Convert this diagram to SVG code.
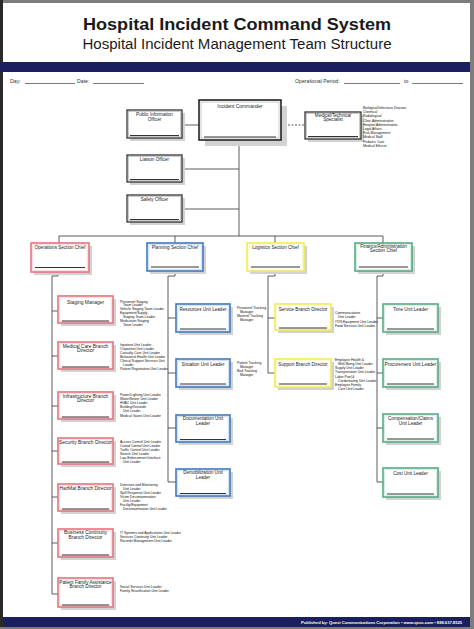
<svg xmlns="http://www.w3.org/2000/svg" width="474" height="629" viewBox="0 0 474 629">
<style>
text{font-family:"Liberation Sans",Arial,sans-serif;fill:#222}
.t{font-size:4.6px;text-anchor:middle}
.tl{font-size:4.9px;text-anchor:middle}
.ls{font-size:3.4px;fill:#111}
.sh{fill:#d2d2d2}
.cmd{fill:#fff;stroke:#222;stroke-width:1.2}
.cmdi{fill:none;stroke:#999;stroke-width:0.5}
.red{fill:#fff;stroke:#e4737d;stroke-width:1.6}
.redi{fill:none;stroke:#f6c0c4;stroke-width:0.6}
.blu{fill:#fff;stroke:#3f78bd;stroke-width:1.6}
.blui{fill:none;stroke:#a9c5e6;stroke-width:0.6}
.yel{fill:#fff;stroke:#f2ec55;stroke-width:1.6}
.yeli{fill:none;stroke:#faf6b0;stroke-width:0.6}
.grn{fill:#fff;stroke:#55a983;stroke-width:1.6}
.grni{fill:none;stroke:#b3dcc8;stroke-width:0.6}
.bl{stroke:#333;stroke-width:1}
.c{fill:none;stroke:#333;stroke-width:0.8}
.form{font-size:5.2px;fill:#333}
.fl{stroke:#222;stroke-width:0.6}
</style>
<!-- page frame -->
<rect x="0" y="0" width="474" height="629" fill="#fff"/>
<rect x="0" y="0" width="474" height="3" fill="#7d7d7d"/>
<rect x="470" y="0" width="4" height="629" fill="#7d7d7d"/>
<rect x="0" y="0" width="3" height="629" fill="#2a2a2a"/>
<rect x="0" y="627" width="474" height="2" fill="#7d7d7d"/>

<g id="header">
<text x="237" y="30" font-size="16.5" font-weight="bold" text-anchor="middle" textLength="308" lengthAdjust="spacingAndGlyphs" style="fill:#1a1a1a">Hospital Incident Command System</text>
<text x="237" y="49" font-size="14" text-anchor="middle" textLength="309" lengthAdjust="spacingAndGlyphs" style="fill:#1a1a1a">Hospital Incident Management Team Structure</text>
<rect x="0" y="62" width="470" height="10" fill="#1b1f5e"/>
<text class="form" x="10" y="83">Day:</text>
<line class="fl" x1="25" y1="83.5" x2="75" y2="83.5"/>
<text class="form" x="77" y="83">Date:</text>
<line class="fl" x1="93" y1="83.5" x2="144" y2="83.5"/>
<text class="form" x="295" y="83">Operational Period:</text>
<line class="fl" x1="344" y1="83.5" x2="400" y2="83.5"/>
<text class="form" x="404" y="83">to</text>
<line class="fl" x1="412" y1="83.5" x2="463" y2="83.5"/>
</g>

<g id="connectors">
<line class="c" x1="182" y1="125" x2="199" y2="125"/>
<line class="c" x1="281" y1="125" x2="305" y2="125" stroke-dasharray="2,1.5"/>
<line class="c" x1="239" y1="140" x2="239" y2="236"/>
<line class="c" x1="182" y1="169" x2="239" y2="169"/>
<line class="c" x1="182" y1="209" x2="239" y2="209"/>
<line class="c" x1="59" y1="236" x2="383" y2="236"/>
<line class="c" x1="59" y1="236" x2="59" y2="243"/>
<line class="c" x1="175" y1="236" x2="175" y2="243"/>
<line class="c" x1="275" y1="236" x2="275" y2="243"/>
<line class="c" x1="383" y1="236" x2="383" y2="243"/>
<path class="c" d="M58,272V276H52V594M52,311H58M52,356H58M52,406H58M52,451H58M52,497H58M52,543H58M52,594H58"/>
<path class="c" d="M175,271V276H168V482M168,318H176M168,373H176M168,428H176M168,482H176"/>
<path class="c" d="M275,271V276H268V373M268,318H275M268,373H275"/>
<path class="c" d="M383,271V276H377V482M377,318H383M377,373H383M377,428H383M377,482H383"/>
</g>

<!-- command staff -->
<g id="incident-commander">
<rect class="sh" x="205" y="106" width="82" height="40"/>
<rect class="cmd" x="199" y="100" width="82" height="40" style="stroke-width:1.6"/>
<rect class="cmdi" x="201" y="102" width="78" height="36"/>
<line class="bl" x1="204" y1="137" x2="276" y2="137"/>
<text class="tl" x="240" y="108">Incident Commander</text>
</g>
<g id="public-information-officer">
<rect class="sh" x="130" y="113" width="55" height="28"/>
<rect class="cmd" x="127" y="110" width="55" height="28"/>
<rect class="cmdi" x="128.5" y="111.5" width="52" height="25"/>
<line class="bl" x1="130" y1="135.5" x2="179" y2="135.5"/>
<text class="t" x="154.5" y="116">Public Information</text>
<text class="t" x="154.5" y="120.5">Officer</text>
</g>
<g id="liaison-officer">
<rect class="sh" x="130" y="158" width="55" height="27"/>
<rect class="cmd" x="127" y="155" width="55" height="27"/>
<rect class="cmdi" x="128.5" y="156.5" width="52" height="24"/>
<line class="bl" x1="130" y1="179.5" x2="179" y2="179.5"/>
<text class="t" x="154.5" y="160.5">Liaison Officer</text>
</g>
<g id="safety-officer">
<rect class="sh" x="130" y="198" width="55" height="27"/>
<rect class="cmd" x="127" y="195" width="55" height="27"/>
<rect class="cmdi" x="128.5" y="196.5" width="52" height="24"/>
<line class="bl" x1="130" y1="219.5" x2="179" y2="219.5"/>
<text class="t" x="154.5" y="200.5">Safety Officer</text>
</g>
<g id="medical-technical-specialist">
<rect class="sh" x="308" y="115" width="56" height="27"/>
<rect class="cmd" x="305" y="112" width="56" height="27"/>
<rect class="cmdi" x="306.5" y="113.5" width="53" height="24"/>
<line class="bl" x1="308" y1="136.5" x2="358" y2="136.5"/>
<text class="t" x="333" y="116.5">Medical/Technical</text>
<text class="t" x="333" y="121">Specialist</text>
<text class="ls" x="363" y="109">Biological/Infectious Disease</text>
<text class="ls" x="363" y="113.2">Chemical</text>
<text class="ls" x="363" y="117.4">Radiological</text>
<text class="ls" x="363" y="121.6">Clinic Administration</text>
<text class="ls" x="363" y="125.8">Hospital Administration</text>
<text class="ls" x="363" y="130">Legal Affairs</text>
<text class="ls" x="363" y="134.2">Risk Management</text>
<text class="ls" x="363" y="138.4">Medical Staff</text>
<text class="ls" x="363" y="142.6">Pediatric Care</text>
<text class="ls" x="363" y="146.8">Medical Ethicist</text>
</g>

<!-- section chiefs -->
<g id="operations-section-chief">
<rect class="sh" x="34" y="246" width="58" height="29"/>
<rect class="red" x="31" y="243" width="58" height="29"/>
<rect class="redi" x="32.8" y="244.8" width="54.4" height="25.4"/>
<line class="bl" x1="35" y1="267.5" x2="85" y2="267.5"/>
<text class="t" x="60" y="248.5">Operations Section Chief</text>
</g>
<g id="planning-section-chief">
<rect class="sh" x="150" y="246" width="56" height="28"/>
<rect class="blu" x="147" y="243" width="56" height="28"/>
<rect class="blui" x="148.8" y="244.8" width="52.4" height="24.4"/>
<line class="bl" x1="151" y1="267" x2="199" y2="267"/>
<text class="t" x="175" y="248.5">Planning Section Chief</text>
</g>
<g id="logistics-section-chief">
<rect class="sh" x="250" y="246" width="57" height="28"/>
<rect class="yel" x="247" y="243" width="57" height="28"/>
<rect class="yeli" x="248.8" y="244.8" width="53.4" height="24.4"/>
<line class="bl" x1="251" y1="267" x2="300" y2="267"/>
<text class="t" x="275.5" y="248.5">Logistics Section Chief</text>
</g>
<g id="finance-administration-section-chief">
<rect class="sh" x="358" y="246" width="57" height="28"/>
<rect class="grn" x="355" y="243" width="57" height="28"/>
<rect class="grni" x="356.8" y="244.8" width="53.4" height="24.4"/>
<line class="bl" x1="359" y1="267" x2="408" y2="267"/>
<text class="t" x="383.5" y="247.5">Finance/Administration</text>
<text class="t" x="383.5" y="252">Section Chief</text>
</g>

<!-- operations -->
<g id="staging-manager">
<rect class="sh" x="61" y="299" width="55" height="27"/>
<rect class="red" x="58" y="296" width="55" height="27"/>
<rect class="redi" x="59.8" y="297.8" width="51.4" height="23.4"/>
<line class="bl" x1="62" y1="321" x2="109" y2="321"/>
<text class="tl" x="85.5" y="304">Staging Manager</text>
<text class="ls" x="120" y="302.5">Personnel Staging</text>
<text class="ls" x="123" y="306.4">Team Leader</text>
<text class="ls" x="120" y="310.3">Vehicle Staging Team Leader</text>
<text class="ls" x="120" y="314.2">Equipment/Supply</text>
<text class="ls" x="123" y="318.1">Staging Team Leader</text>
<text class="ls" x="120" y="322">Medication Staging</text>
<text class="ls" x="123" y="325.9">Team Leader</text>
</g>
<g id="medical-care-branch-director">
<rect class="sh" x="61" y="345" width="55" height="27"/>
<rect class="red" x="58" y="342" width="55" height="27"/>
<rect class="redi" x="59.8" y="343.8" width="51.4" height="23.4"/>
<line class="bl" x1="62" y1="367" x2="109" y2="367"/>
<text class="tl" x="85.5" y="347.5">Medical Care Branch</text>
<text class="tl" x="85.5" y="352">Director</text>
<text class="ls" x="120" y="346">Inpatient Unit Leader</text>
<text class="ls" x="120" y="350">Outpatient Unit Leader</text>
<text class="ls" x="120" y="354">Casualty Care Unit Leader</text>
<text class="ls" x="120" y="358">Behavioral Health Unit Leader</text>
<text class="ls" x="120" y="362">Clinical Support Services Unit</text>
<text class="ls" x="123" y="366">Leader</text>
<text class="ls" x="120" y="370">Patient Registration Unit Leader</text>
</g>
<g id="infrastructure-branch-director">
<rect class="sh" x="61" y="395" width="55" height="27"/>
<rect class="red" x="58" y="392" width="55" height="27"/>
<rect class="redi" x="59.8" y="393.8" width="51.4" height="23.4"/>
<line class="bl" x1="62" y1="417" x2="109" y2="417"/>
<text class="tl" x="85.5" y="397.5">Infrastructure Branch</text>
<text class="tl" x="85.5" y="402">Director</text>
<text class="ls" x="120" y="396">Power/Lighting Unit Leader</text>
<text class="ls" x="120" y="400">Water/Sewer Unit Leader</text>
<text class="ls" x="120" y="404">HVAC Unit Leader</text>
<text class="ls" x="120" y="408">Building/Grounds</text>
<text class="ls" x="123" y="412">Unit Leader</text>
<text class="ls" x="120" y="417">Medical Gases Unit Leader</text>
</g>
<g id="security-branch-director">
<rect class="sh" x="61" y="441" width="55" height="26"/>
<rect class="red" x="58" y="438" width="55" height="26"/>
<rect class="redi" x="59.8" y="439.8" width="51.4" height="22.4"/>
<line class="bl" x1="62" y1="462" x2="109" y2="462"/>
<text class="tl" x="85.5" y="443.5">Security Branch Director</text>
<text class="ls" x="120" y="442.5">Access Control Unit Leader</text>
<text class="ls" x="120" y="446.5">Crowd Control Unit Leader</text>
<text class="ls" x="120" y="450.5">Traffic Control Unit Leader</text>
<text class="ls" x="120" y="454.5">Search Unit Leader</text>
<text class="ls" x="120" y="459">Law Enforcement Interface</text>
<text class="ls" x="123" y="463">Unit Leader</text>
</g>
<g id="hazmat-branch-director">
<rect class="sh" x="61" y="487" width="55" height="27"/>
<rect class="red" x="58" y="484" width="55" height="27"/>
<rect class="redi" x="59.8" y="485.8" width="51.4" height="23.4"/>
<line class="bl" x1="62" y1="509" x2="109" y2="509"/>
<text class="tl" x="85.5" y="489.5">HazMat Branch Director</text>
<text class="ls" x="120" y="486">Detection and Monitoring</text>
<text class="ls" x="123" y="490">Unit Leader</text>
<text class="ls" x="120" y="494">Spill Response Unit Leader</text>
<text class="ls" x="120" y="498">Victim Decontamination</text>
<text class="ls" x="123" y="502">Unit Leader</text>
<text class="ls" x="120" y="506">Facility/Equipment</text>
<text class="ls" x="123" y="510">Decontamination Unit Leader</text>
</g>
<g id="business-continuity-branch-director">
<rect class="sh" x="61" y="532" width="55" height="28"/>
<rect class="red" x="58" y="529" width="55" height="28"/>
<rect class="redi" x="59.8" y="530.8" width="51.4" height="24.4"/>
<line class="bl" x1="62" y1="555" x2="109" y2="555"/>
<text class="tl" x="85.5" y="534">Business Continuity</text>
<text class="tl" x="85.5" y="538.5">Branch Director</text>
<text class="ls" x="120" y="534">IT Systems and Applications Unit Leader</text>
<text class="ls" x="120" y="538">Services Continuity Unit Leader</text>
<text class="ls" x="120" y="542">Records Management Unit Leader</text>
</g>
<g id="patient-family-assistance-branch-director">
<rect class="sh" x="61" y="581" width="55" height="29"/>
<rect class="red" x="58" y="578" width="55" height="29"/>
<rect class="redi" x="59.8" y="579.8" width="51.4" height="25.4"/>
<line class="bl" x1="62" y1="605" x2="109" y2="605"/>
<text class="t" x="85.5" y="583.5">Patient Family Assistance</text>
<text class="t" x="85.5" y="588">Branch Director</text>
<text class="ls" x="120" y="588">Social Services Unit Leader</text>
<text class="ls" x="120" y="592">Family Reunification Unit Leader</text>
</g>

<!-- planning -->
<g id="resources-unit-leader">
<rect class="sh" x="179" y="307" width="54" height="28"/>
<rect class="blu" x="176" y="304" width="54" height="28"/>
<rect class="blui" x="177.8" y="305.8" width="50.4" height="24.4"/>
<line class="bl" x1="180" y1="329" x2="226" y2="329"/>
<text class="t" x="203" y="310.5">Resources Unit Leader</text>
<text class="ls" x="237" y="308.5">Personnel Tracking</text>
<text class="ls" x="240" y="312.5">Manager</text>
<text class="ls" x="237" y="317">Materiel Tracking</text>
<text class="ls" x="240" y="321">Manager</text>
</g>
<g id="situation-unit-leader">
<rect class="sh" x="179" y="362" width="54" height="28"/>
<rect class="blu" x="176" y="359" width="54" height="28"/>
<rect class="blui" x="177.8" y="360.8" width="50.4" height="24.4"/>
<line class="bl" x1="180" y1="384" x2="226" y2="384"/>
<text class="t" x="203" y="365.5">Situation Unit Leader</text>
<text class="ls" x="237" y="363.5">Patient Tracking</text>
<text class="ls" x="240" y="367.5">Manager</text>
<text class="ls" x="237" y="372">Bed Tracking</text>
<text class="ls" x="240" y="376">Manager</text>
</g>
<g id="documentation-unit-leader">
<rect class="sh" x="179" y="418" width="54" height="27"/>
<rect class="blu" x="176" y="415" width="54" height="27"/>
<rect class="blui" x="177.8" y="416.8" width="50.4" height="23.4"/>
<line class="bl" x1="180" y1="439.5" x2="226" y2="439.5"/>
<text class="t" x="203" y="420">Documentation Unit</text>
<text class="t" x="203" y="424.5">Leader</text>
</g>
<g id="demobilization-unit-leader">
<rect class="sh" x="179" y="472" width="54" height="27"/>
<rect class="blu" x="176" y="469" width="54" height="27"/>
<rect class="blui" x="177.8" y="470.8" width="50.4" height="23.4"/>
<line class="bl" x1="180" y1="493.5" x2="226" y2="493.5"/>
<text class="t" x="203" y="474">Demobilization Unit</text>
<text class="t" x="203" y="478.5">Leader</text>
</g>

<!-- logistics -->
<g id="service-branch-director">
<rect class="sh" x="278" y="307" width="56" height="26"/>
<rect class="yel" x="275" y="304" width="56" height="26"/>
<rect class="yeli" x="276.8" y="305.8" width="52.4" height="22.4"/>
<line class="bl" x1="279" y1="328" x2="327" y2="328"/>
<text class="t" x="303" y="310.5">Service Branch Director</text>
<text class="ls" x="335" y="314">Communications</text>
<text class="ls" x="338" y="318">Unit Leader</text>
<text class="ls" x="335" y="322.5">IT/IS Equipment Unit Leader</text>
<text class="ls" x="335" y="326.5">Food Services Unit Leader</text>
</g>
<g id="support-branch-director">
<rect class="sh" x="278" y="362" width="56" height="28"/>
<rect class="yel" x="275" y="359" width="56" height="28"/>
<rect class="yeli" x="276.8" y="360.8" width="52.4" height="24.4"/>
<line class="bl" x1="279" y1="384" x2="327" y2="384"/>
<text class="t" x="303" y="365.5">Support Branch Director</text>
<text class="ls" x="335" y="361">Employee Health &amp;</text>
<text class="ls" x="338" y="365">Well-Being Unit Leader</text>
<text class="ls" x="335" y="369">Supply Unit Leader</text>
<text class="ls" x="335" y="373">Transportation Unit Leader</text>
<text class="ls" x="335" y="377.5">Labor Pool &amp;</text>
<text class="ls" x="338" y="381.5">Credentialing Unit Leader</text>
<text class="ls" x="335" y="386">Employee Family</text>
<text class="ls" x="338" y="390">Care Unit Leader</text>
</g>

<!-- finance -->
<g id="time-unit-leader">
<rect class="sh" x="386" y="307" width="55" height="28"/>
<rect class="grn" x="383" y="304" width="55" height="28"/>
<rect class="grni" x="384.8" y="305.8" width="51.4" height="24.4"/>
<line class="bl" x1="387" y1="329" x2="434" y2="329"/>
<text class="t" x="410.5" y="310.5">Time Unit Leader</text>
</g>
<g id="procurement-unit-leader">
<rect class="sh" x="386" y="362" width="55" height="28"/>
<rect class="grn" x="383" y="359" width="55" height="28"/>
<rect class="grni" x="384.8" y="360.8" width="51.4" height="24.4"/>
<line class="bl" x1="387" y1="384" x2="434" y2="384"/>
<text class="t" x="410.5" y="365.5">Procurement Unit Leader</text>
</g>
<g id="compensation-claims-unit-leader">
<rect class="sh" x="386" y="417" width="55" height="28"/>
<rect class="grn" x="383" y="414" width="55" height="28"/>
<rect class="grni" x="384.8" y="415.8" width="51.4" height="24.4"/>
<line class="bl" x1="387" y1="439" x2="434" y2="439"/>
<text class="t" x="410.5" y="420">Compensation/Claims</text>
<text class="t" x="410.5" y="424.5">Unit Leader</text>
</g>
<g id="cost-unit-leader">
<rect class="sh" x="386" y="471" width="55" height="29"/>
<rect class="grn" x="383" y="468" width="55" height="29"/>
<rect class="grni" x="384.8" y="469.8" width="51.4" height="25.4"/>
<line class="bl" x1="387" y1="494" x2="434" y2="494"/>
<text class="t" x="410.5" y="474.5">Cost Unit Leader</text>
</g>

<g id="footer">
<rect x="3" y="617" width="467" height="10" fill="#1b1f5e"/>
<text x="462" y="623.5" font-size="3.8" font-weight="bold" text-anchor="end" textLength="161" lengthAdjust="spacingAndGlyphs" style="fill:#fff">Published by: Quest Communications Corporation  •  www.qcsc.com  •  888.637.8525</text>
</g>
</svg>
